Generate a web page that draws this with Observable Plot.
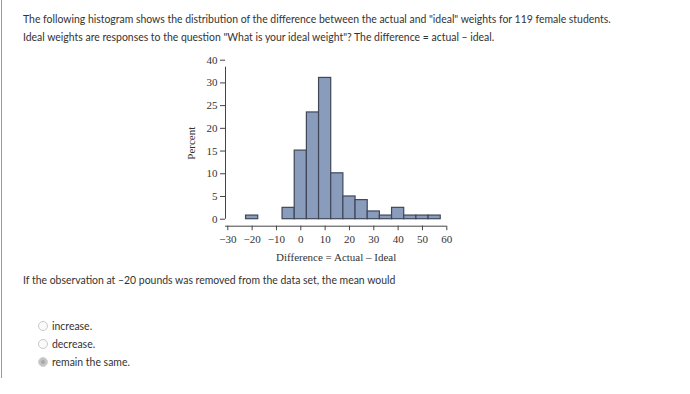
<!DOCTYPE html>
<html>
<head>
<meta charset="utf-8">
<script src="https://cdn.jsdelivr.net/npm/d3@7"></script>
<script src="https://cdn.jsdelivr.net/npm/@observablehq/plot@0.6"></script>
<style>
  html, body { margin: 0; padding: 0; background: #fff; }
  body { width: 690px; height: 394px; position: relative; overflow: hidden; font-family: Lato, "Open Sans", sans-serif; color: #333; }
  .border { position: absolute; left: 1px; top: 0; width: 1px; height: 378px; background: #9a9a9a; }
  .txt { position: absolute; left: 23px; font-size: 10.45px; line-height: 14px; white-space: nowrap; }
  #chart { position: absolute; left: 0; top: 50px; }
  #chart svg text { font-family: 'Liberation Serif', 'Times New Roman', serif !important; }
  .opt { position: absolute; left: 38px; font-size: 10.45px; line-height: 14px; white-space: nowrap; }
  .radio { position: absolute; left: 0; top: 2px; width: 8px; height: 8px; border: 1px solid #c9c9c9; border-radius: 50%; background: #fafafa; }
  .radio.sel { background: #c4c4c4; border-color: #d4d4d4; }
  .radio.sel::after { content: ""; position: absolute; left: 2px; top: 2px; width: 4px; height: 4px; border-radius: 50%; background: #a8a8a8; }
  .opt span.lab { position: absolute; left: 14px; top: 0; }
</style>
</head>
<body>
<div class="border"></div>
<div class="txt" style="top:12px">The following histogram shows the distribution of the difference between the actual and "ideal" weights for 119 female students.</div>
<div class="txt" style="top:30px">Ideal weights are responses to the question "What is your ideal weight"? The difference = actual – ideal.</div>
<div id="chart"></div>
<div class="txt" style="top:273px">If the observation at –20 pounds was removed from the data set, the mean would</div>
<div class="opt" style="top:319px"><span class="radio"></span><span class="lab">increase.</span></div>
<div class="opt" style="top:337px"><span class="radio"></span><span class="lab">decrease.</span></div>
<div class="opt" style="top:355px"><span class="radio sel"></span><span class="lab">remain the same.</span></div>
<script>
// Histogram bins (left and right edges, width 5) and percent heights
const binStart = [-22.5, -17.5, -12.5, -7.5, -2.5, 2.5, 7.5, 12.5, 17.5, 22.5, 27.5, 32.5, 37.5, 42.5, 47.5, 52.5];
const binEnd   = [-17.5, -12.5, -7.5, -2.5, 2.5, 7.5, 12.5, 17.5, 22.5, 27.5, 32.5, 37.5, 42.5, 47.5, 52.5, 57.5];
const percent  = [0.8, 0, 0, 2.5, 15.1, 23.5, 31.1, 10.1, 5.0, 4.2, 1.7, 0.8, 2.5, 0.8, 0.8, 0.8];

const xTicks  = [-30, -20, -10, 0, 10, 20, 30, 40, 50, 60];
const xLabels = ["−30", "−20", "−10", "0", "10", "20", "30", "40", "50", "60"];
const yTicks  = [0, 5, 10, 15, 20, 25, 30, 35];
const yLabels = ["0", "5", "10", "15", "20", "25", "30", "40"];

const bins = binStart.map((s, i) => ({x1: s, x2: binEnd[i], y: percent[i]}));

const serif = "'Liberation Serif', 'Times New Roman', serif";
const axisColor = "#444";

const plot = Plot.plot({
  width: 690,
  height: 215,
  marginLeft: 225,
  marginRight: 243.7,
  marginTop: 9.7,
  marginBottom: 39.3,
  insetLeft: 2.3,
  insetBottom: 7,
  style: {fontFamily: serif, fontSize: "11px", color: "#333", background: "transparent"},
  x: {domain: [-30, 60]},
  y: {domain: [0, 35]},
  marks: [
    Plot.rectY(bins, {x1: "x1", x2: "x2", y: "y", fill: "#8a9cbc", stroke: "#3f4759", strokeWidth: 1.2}),
    // axis lines (L-shaped frame)
    Plot.ruleX([xTicks[0]], {y1: 0, y2: yTicks[yTicks.length - 1], dx: -2.3, insetBottom: -7, stroke: axisColor, strokeWidth: 1}),
    Plot.ruleY([0], {x1: xTicks[0], x2: xTicks[xTicks.length - 1], dy: 7, insetLeft: -2.3, stroke: axisColor, strokeWidth: 1}),
    Plot.axisX({
      ticks: xTicks,
      tickFormat: (d) => xLabels[xTicks.indexOf(d)],
      tickSize: 4.5,
      tickPadding: 4,
      stroke: axisColor,
      fill: "#333",
      fontSize: 11,
      fontFamily: serif,
      label: "Difference = Actual – Ideal",
      labelAnchor: "center",
      labelArrow: "none",
      labelOffset: 35
    }),
    Plot.axisY({
      ticks: yTicks,
      tickFormat: (d) => yLabels[yTicks.indexOf(d)],
      tickSize: 5,
      tickPadding: 3,
      stroke: axisColor,
      fill: "#333",
      fontSize: 11,
      fontFamily: serif,
      label: "Percent",
      labelAnchor: "center",
      labelArrow: "none",
      labelOffset: 38
    })
  ]
});
document.getElementById("chart").appendChild(plot);
</script>
</body>
</html>
